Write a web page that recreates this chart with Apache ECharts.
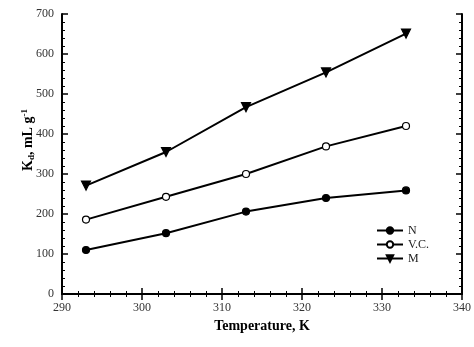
<!DOCTYPE html>
<html>
<head>
<meta charset="utf-8">
<script src="https://cdn.jsdelivr.net/npm/echarts@6/dist/echarts.min.js"></script>
<style>
  html, body { margin: 0; padding: 0; background: #fff; }
  #chart { width: 474px; height: 347px; }
</style>
</head>
<body>
<div id="chart"></div>
<script>
// Distribution coefficient vs temperature for three sorbents
const temperatures = [293, 303, 313, 323, 333];
const seriesN  = [110, 152, 206, 240, 259];
const seriesVC = [186, 243, 300, 369, 420];
const seriesM  = [271, 355, 467, 554, 651];
const seriesNames = ['N', 'V.C.', 'M'];

const FONT = '"Liberation Serif", "Times New Roman", serif';

function pairs(vals) { return temperatures.map((t, i) => [t, vals[i]]); }

const chart = echarts.init(document.getElementById('chart'), null, { renderer: 'canvas' });

const axisLine = { show: true, lineStyle: { color: '#000', width: 2 } };
const tickIn = { show: true, inside: true, length: 6, lineStyle: { color: '#000', width: 1.5 } };
const minorIn = { show: true, splitNumber: 5, length: 3, lineStyle: { color: '#000', width: 1 } };

function lineSeries(name, vals, symbol, filled) {
  return {
    name, type: 'line', data: pairs(vals),
    symbol, symbolSize: symbol === 'triangle' ? 9 : 7,
    symbolRotate: symbol === 'triangle' ? 180 : 0,
    lineStyle: { color: '#000', width: 2 },
    itemStyle: { color: filled ? '#000' : '#fff', borderColor: '#000', borderWidth: 1.2 },
    showSymbol: true, animation: false
  };
}

chart.setOption({
  backgroundColor: '#fff',
  animation: false,
  grid: { left: 62, right: 12, top: 14, bottom: 53, containLabel: false },
  legend: {
    orient: 'vertical', left: 371, top: 219,
    itemWidth: 26, itemHeight: 8, itemGap: 1,
    textStyle: { fontFamily: FONT, fontSize: 12, color: '#222', lineHeight: 13 },
    data: seriesNames
  },
  xAxis: [{
    type: 'value', min: 290, max: 340, interval: 10,
    name: 'Temperature, K', nameLocation: 'middle', nameGap: 23,
    nameTextStyle: { fontFamily: FONT, fontSize: 14, fontWeight: 'bold', color: '#000' },
    axisLine, axisTick: tickIn,
    minorTick: { show: true, splitNumber: 5, length: 3, lineStyle: { color: '#000', width: 1 } },
    axisLabel: { fontFamily: FONT, fontSize: 12, color: '#333', margin: 8 },
    splitLine: { show: false }
  }, {
    type: 'value', min: 290, max: 340, interval: 10, position: 'top',
    axisLine, axisTick: tickIn,
    minorTick: { show: true, splitNumber: 5, length: 3, lineStyle: { color: '#000', width: 1 } },
    axisLabel: { show: false }, splitLine: { show: false }
  }],
  yAxis: [{
    type: 'value', min: 0, max: 700, interval: 100,
    name: '{k|K}{sub|d}{k|, mL g}{sup|-1}', nameLocation: 'middle', nameGap: 26,
    nameMoveOverlap: false,
    nameTextStyle: {
      fontFamily: FONT, fontSize: 14, fontWeight: 'bold', color: '#000',
      lineHeight: 16, padding: [0, 0, 0, 28],
      rich: {
        k: { fontFamily: FONT, fontSize: 14, fontWeight: 'bold', color: '#000', lineHeight: 16 },
        sub: { fontFamily: FONT, fontSize: 9, fontWeight: 'bold', color: '#000', verticalAlign: 'bottom', lineHeight: 16 },
        sup: { fontFamily: FONT, fontSize: 9, fontWeight: 'bold', color: '#000', verticalAlign: 'top', lineHeight: 16 }
      }
    },
    axisLine, axisTick: tickIn, minorTick: minorIn,
    axisLabel: { fontFamily: FONT, fontSize: 12, color: '#333', margin: 8 },
    splitLine: { show: false }
  }, {
    type: 'value', min: 0, max: 700, interval: 100, position: 'right',
    axisLine, axisTick: tickIn, minorTick: minorIn,
    axisLabel: { show: false }, splitLine: { show: false }
  }],
  series: [
    lineSeries(seriesNames[0], seriesN, 'circle', true),
    lineSeries(seriesNames[1], seriesVC, 'circle', false),
    lineSeries(seriesNames[2], seriesM, 'triangle', true)
  ]
});
</script>
</body>
</html>
